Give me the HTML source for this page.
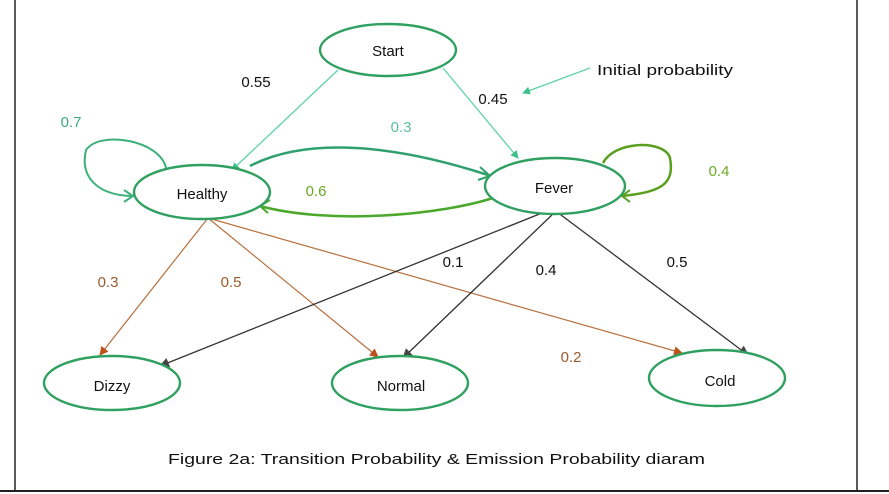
<!DOCTYPE html>
<html><head><style>
body{margin:0;background:#fff;}
svg{display:block;}
text{font-family:"Liberation Sans Narrow","Liberation Sans",sans-serif;font-size:15px;}
</style></head><body>
<svg width="889" height="494" viewBox="0 0 889 494">
<defs>
<marker id="ag" markerWidth="8" markerHeight="8" refX="7" refY="4" orient="auto" markerUnits="userSpaceOnUse"><path d="M0,0 L8,4 L0,8z" fill="#3cc08a"/></marker>
<marker id="ab" markerWidth="9" markerHeight="9" refX="8" refY="4.5" orient="auto" markerUnits="userSpaceOnUse"><path d="M0,0 L9,4.5 L0,9z" fill="#c0501a"/></marker>
<marker id="ak" markerWidth="10" markerHeight="10" refX="9" refY="5" orient="auto" markerUnits="userSpaceOnUse"><path d="M0,0 L10,5 L0,10z" fill="#444"/></marker>
</defs>
<line x1="15" y1="0" x2="15" y2="491" stroke="#222" stroke-width="1.5"/>
<line x1="857" y1="0" x2="857" y2="491" stroke="#222" stroke-width="1.5"/>
<line x1="0" y1="491" x2="889" y2="491" stroke="#222" stroke-width="2"/>
<g fill="none">
<line x1="338" y1="70" x2="232" y2="170" stroke="#5fd3a5" stroke-width="1.3" marker-end="url(#ag)"/>
<line x1="443" y1="68" x2="518" y2="158" stroke="#5fd3a5" stroke-width="1.3" marker-end="url(#ag)"/>
<line x1="590" y1="68" x2="523" y2="93" stroke="#5fd3a5" stroke-width="1.3" marker-end="url(#ag)"/>
<line x1="208" y1="218" x2="100" y2="355" stroke="#b8703f" stroke-width="1.2" marker-end="url(#ab)"/>
<line x1="208" y1="218" x2="378" y2="357" stroke="#b8703f" stroke-width="1.2" marker-end="url(#ab)"/>
<line x1="208" y1="218" x2="682" y2="353" stroke="#b8703f" stroke-width="1.2" marker-end="url(#ab)"/>
<line x1="547" y1="211" x2="160" y2="366" stroke="#333" stroke-width="1.3" marker-end="url(#ak)"/>
<line x1="555" y1="212" x2="403" y2="358" stroke="#333" stroke-width="1.3" marker-end="url(#ak)"/>
<line x1="557" y1="212" x2="748" y2="355" stroke="#333" stroke-width="1.3" marker-end="url(#ak)"/>
<path d="M250,166 C300,140 380,140 488,175" stroke="#2fa070" stroke-width="2.5"/>
<path d="M480,167 L490,176 L478,180" stroke="#2fa070" stroke-width="2"/>
<path d="M493,198 C440,215 330,225 260,206" stroke="#4aa82a" stroke-width="2.5"/>
<path d="M270,200 L260,206 L268,213" stroke="#4aa82a" stroke-width="2"/>
<path d="M166,168 C160,140 100,130 86,150 C80,175 95,195 132,196" stroke="#3cb07a" stroke-width="2"/>
<path d="M124,190 L133,196 L124,202" stroke="#3cb07a" stroke-width="2"/>
<path d="M603,163 C615,140 665,140 670,158 C675,185 660,192 622,196" stroke="#5aa020" stroke-width="2.5"/>
<path d="M630,190 L622,196 L630,202" stroke="#5aa020" stroke-width="2"/>
<g stroke="#2fa060" stroke-width="2.4" fill="#fff">
<ellipse cx="388" cy="50" rx="68" ry="26"/>
<ellipse cx="202" cy="192" rx="68" ry="27"/>
<ellipse cx="555" cy="186" rx="70" ry="28"/>
<ellipse cx="112" cy="383" rx="68" ry="27"/>
<ellipse cx="400" cy="383" rx="68" ry="27"/>
<ellipse cx="717" cy="378" rx="68" ry="28"/>
</g>
</g>
<g fill="#111" text-anchor="middle">
<text x="388" y="56">Start</text>
<text x="202" y="199">Healthy</text>
<text x="554" y="193">Fever</text>
<text x="112" y="391">Dizzy</text>
<text x="401" y="391">Normal</text>
<text x="720" y="386">Cold</text>
<text x="256" y="87">0.55</text>
<text x="493" y="104">0.45</text>
<text x="453" y="267">0.1</text>
<text x="546" y="275">0.4</text>
<text x="677" y="267">0.5</text>
</g>
<text x="597" y="75" fill="#111" font-size="16" textLength="136" lengthAdjust="spacingAndGlyphs">Initial probability</text>
<g text-anchor="middle">
<text x="71" y="127" fill="#3caa7a">0.7</text>
<text x="401" y="132" fill="#5ac09a">0.3</text>
<text x="316" y="196" fill="#6aaa22">0.6</text>
<text x="719" y="176" fill="#6aaa22">0.4</text>
<text x="108" y="287" fill="#9a5a2a">0.3</text>
<text x="231" y="287" fill="#9a5a2a">0.5</text>
<text x="571" y="362" fill="#9a5a2a">0.2</text>
</g>
<text x="168" y="464" fill="#111" font-size="19" textLength="537" lengthAdjust="spacingAndGlyphs">Figure 2a: Transition Probability &amp; Emission Probability diaram</text>
</svg>
</body></html>
